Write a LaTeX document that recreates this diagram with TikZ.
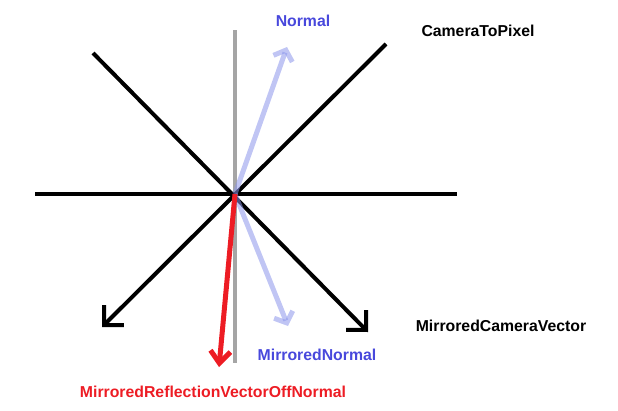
\documentclass[tikz,border=0pt]{standalone}
\usepackage{fontspec}
\setmainfont{Liberation Sans}
\usetikzlibrary{arrows.meta}
\definecolor{paintred}{RGB}{237,28,36}
\definecolor{paintblue}{RGB}{72,72,220}
\definecolor{paleblue}{RGB}{140,150,235}
\definecolor{mirrorgray}{RGB}{165,165,165}

\begin{document}
\begin{tikzpicture}[x=1pt,y=-1pt,line width=4pt,
	font=\bfseries\fontsize{15.8}{18}\selectfont]
	\tikzstyle{axis}=[draw=black]
	\tikzstyle{camera}=[draw=black,-{Straight Barb[length=14pt,width=28pt]}]
	\tikzstyle{mirror}=[draw=mirrorgray]
	\tikzstyle{normal}=[draw=paleblue,opacity=0.55,line width=5pt,-{Straight Barb[length=9pt,width=20pt]}]
	\tikzstyle{reflect}=[draw=paintred,line width=5pt,-{Straight Barb[length=12pt,width=20pt]}]

	\useasboundingbox (0,0) rectangle (618,410);

	\coordinate (O)  at (235,194);
	\coordinate (L)  at (35,194);
	\coordinate (R)  at (457,194);
	\coordinate (MT) at (235,30);
	\coordinate (MB) at (235,363);
	\coordinate (UL) at (93,53);
	\coordinate (UR) at (386,44);
	\coordinate (LL) at (102,327);
	\coordinate (LR) at (368,332);
	\coordinate (N)  at (287,47);
	\coordinate (MN) at (288,326);
	\coordinate (RV) at (219,367);

	\path
		(MT) edge [mirror]  (MB)
		(L)  edge [axis]    (R)
		(UL) edge [camera]  (LR)
		(UR) edge [camera]  (LL)
		(O)  edge [normal]  (N)
		(O)  edge [normal]  (MN)
		(O)  edge [reflect] (RV)
	;

	\node[text=paintblue] (normallabel)   at (303,21)  {Normal};
	\node                 (pixellabel)    at (478,31)  {CameraToPixel};
	\node                 (cameralabel)   at (501,326) {MirroredCameraVector};
	\node[text=paintblue] (mnormallabel)  at (317,355) {MirroredNormal};
	\node[text=paintred]  (reflectlabel)  at (213,392) {MirroredReflectionVectorOffNormal};
\end{tikzpicture}
\end{document}
